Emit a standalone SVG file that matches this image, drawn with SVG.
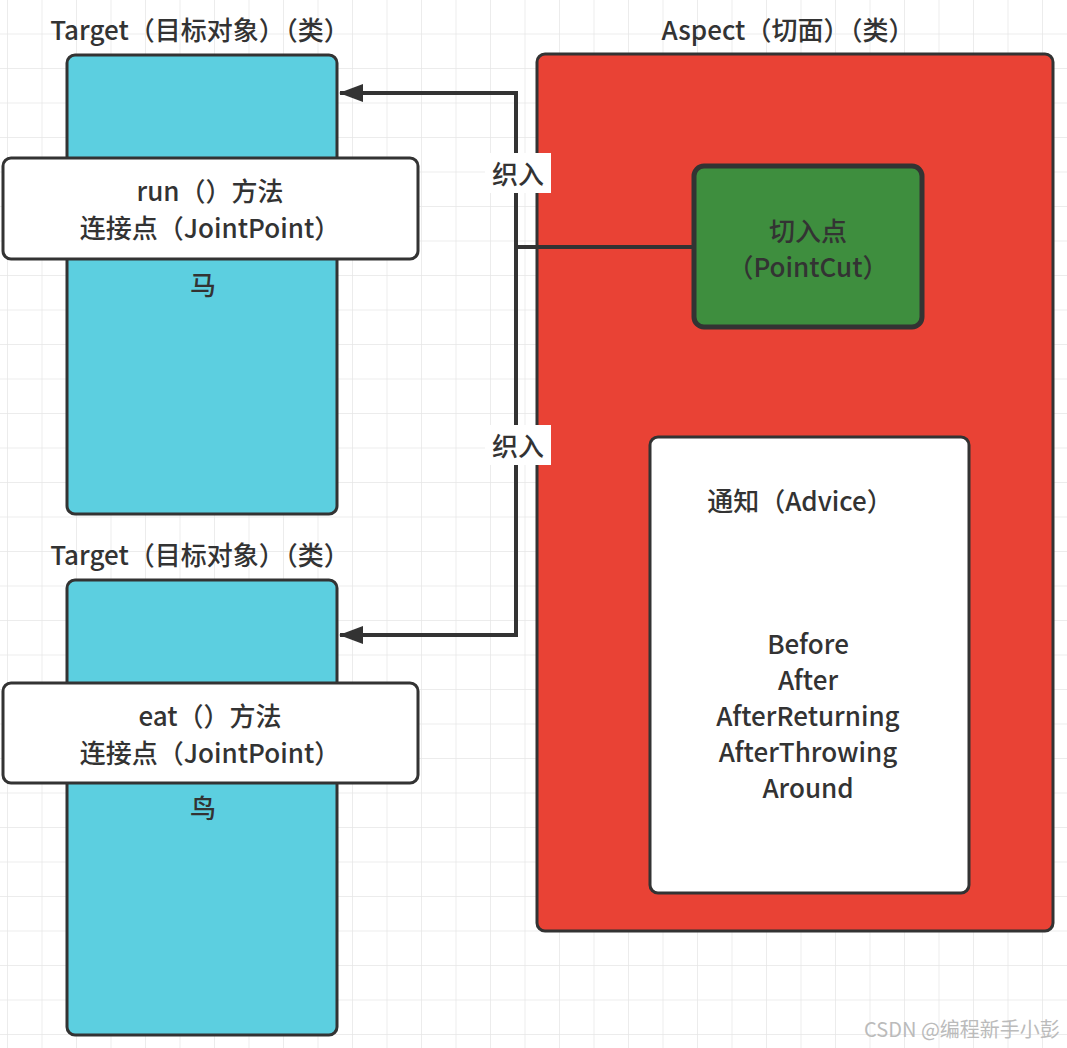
<svg xmlns="http://www.w3.org/2000/svg" width="1067" height="1048" viewBox="0 0 1067 1048">
<style>
text{font-family:"Noto Sans CJK SC","Noto Sans",sans-serif;fill:#333;font-size:26px;font-weight:500;text-anchor:middle}
.box{stroke:#333;stroke-width:3}
.ln{fill:none;stroke:#333;stroke-width:4}
</style>
<defs>
<pattern id="g" width="34.5" height="34.5" patternUnits="userSpaceOnUse" x="8" y="0">
<path d="M34.5 0V34.5M0 34.5H34.5" fill="none" stroke="#e6e6e6" stroke-width="1.5"/>
</pattern>
<marker id="a" markerWidth="24" markerHeight="18" refX="23" refY="9" orient="auto" markerUnits="userSpaceOnUse" viewBox="0 0 24 18"><path d="M0 0L24 9L0 18z" fill="#333"/></marker>
</defs>
<rect width="1067" height="1048" fill="#fff"/>
<rect width="1067" height="1048" fill="url(#g)"/>
<g id="target1">
<text x="200" y="40">Target（目标对象）（类）</text>
<rect class="box" x="67" y="55" width="270" height="459" rx="8" fill="#5ccfe0"/>
<text x="203" y="295">马</text>
</g>
<g id="method1">
<rect class="box" x="3" y="158" width="415" height="101" rx="8" fill="#fff"/>
<text x="210" y="201">run（）方法</text>
<text x="210" y="238">连接点（JointPoint）</text>
</g>
<g id="target2">
<text x="200" y="565">Target（目标对象）（类）</text>
<rect class="box" x="67" y="580" width="270" height="455" rx="8" fill="#5ccfe0"/>
<text x="203" y="818">鸟</text>
</g>
<g id="method2">
<rect class="box" x="3" y="683" width="415" height="100" rx="8" fill="#fff"/>
<text x="210" y="726">eat（）方法</text>
<text x="210" y="763">连接点（JointPoint）</text>
</g>
<g id="aspect">
<text x="788" y="40">Aspect（切面）（类）</text>
<rect class="box" x="537" y="54" width="516" height="877" rx="8" fill="#e94235"/>
</g>
<g id="pointcut">
<rect x="694" y="166" width="228" height="161" rx="10" fill="#3e8e3e" stroke="#333" stroke-width="5"/>
<text x="808" y="241">切入点</text>
<text x="808" y="277">（PointCut）</text>
</g>
<g id="advice">
<rect class="box" x="650" y="437" width="319" height="456" rx="8" fill="#fff"/>
<text x="800" y="511">通知（Advice）</text>
<text x="808" y="654">Before</text>
<text x="808" y="690">After</text>
<text x="808" y="726">AfterReturning</text>
<text x="808" y="762">AfterThrowing</text>
<text x="808" y="798">Around</text>
</g>
<g id="connectors">
<path class="ln" d="M694 247H516"/>
<path class="ln" d="M516 247V93H340" marker-end="url(#a)"/>
<path class="ln" d="M516 247V635H340" marker-end="url(#a)"/>
<rect x="485" y="153" width="66" height="40" fill="#fff"/>
<text x="518" y="184">织入</text>
<rect x="485" y="425" width="66" height="40" fill="#fff"/>
<text x="518" y="456">织入</text>
</g>
<text x="962" y="1037" style="font-size:20px;font-weight:400;fill:#bbb">CSDN @编程新手小彭</text>
</svg>
